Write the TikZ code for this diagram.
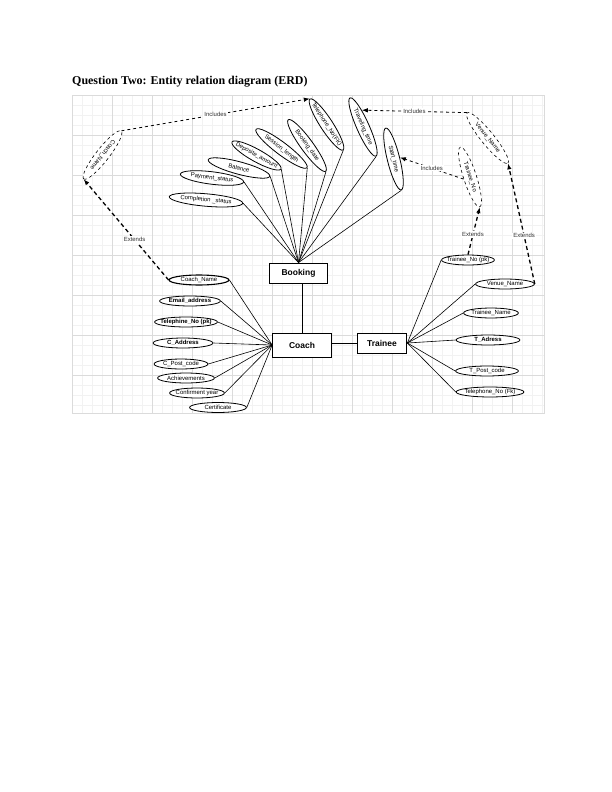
\documentclass[tikz,border=0pt]{standalone}
\usepackage{fontspec}
\setmainfont{Liberation Serif}
\setsansfont{Liberation Sans}
\usepackage{tikz}
\usetikzlibrary{shapes, arrows.meta, positioning}
\newcommand{\ztext}[1]{\makebox[0pt]{#1}}

\begin{document}
\begin{tikzpicture}
  [
    x=1bp, y=-1bp,
    Entity/.style={rectangle, draw=black, fill=white, line width=0.9pt, minimum width=59pt, minimum height=20pt, font=\sffamily\bfseries\fontsize{8.5}{10}\selectfont},
    Attr/.style={ellipse, draw=black, fill=white, line width=0.8pt, inner sep=0pt, minimum height=10pt, font=\sffamily\fontsize{6}{7}\selectfont},
    Key/.style={Attr, font=\sffamily\bfseries\fontsize{6}{7}\selectfont},
    Tall/.style={Attr, minimum height=12.5pt, minimum width=64pt},
    Ghost/.style={Attr, dashed, line width=0.6pt, minimum height=13pt},
    Link/.style={draw, line width=0.6pt},
    Includes/.style={draw, dashed, line width=0.8pt, -{Latex[length=6pt, width=4.5pt]}},
    Extends/.style={draw, dash pattern=on 4pt off 3pt, line width=1.3pt, -{Latex[length=6pt, width=4.5pt]}},
    Tag/.style={fill=white, inner sep=1pt, text=black!80, font=\sffamily\fontsize{6}{7}\selectfont},
    GridMinor/.style={draw=gray!10, line width=0.3pt},
    GridMajor/.style={draw=gray!28, line width=0.4pt}
  ]
  \useasboundingbox (0,0) rectangle (612,792);

  % Grid
  \foreach \gx in {72,82,...,542} \path[GridMinor] (\gx,95) -- (\gx,413);
  \foreach \gy in {95,105,...,413} \path[GridMinor] (72,\gy) -- (544,\gy);
  \foreach \gx in {72,112,...,542} \path[GridMajor] (\gx,95) -- (\gx,413);
  \foreach \gy in {95,135,...,413} \path[GridMajor] (72,\gy) -- (544,\gy);
  \path[GridMajor] (72,95) rectangle (544,413);

  % Title
  \node[anchor=base west, inner sep=0pt, font=\bfseries\fontsize{12}{14}\selectfont] (title) at(72, 84) {Question Two: Entity relation diagram (ERD)};

  % Entities
  \node[Entity] (booking) at(298.5, 273) {Booking};
  \node[Entity, minimum height=24pt] (coach) at(302, 345) {Coach};
  \node[Entity, minimum width=50pt] (trainee) at(382, 343) {Trainee};

  % Coach attributes
  \node[Attr, line width=1.1pt, minimum width=60pt] (cname) at(199, 280) {\ztext{Coach\_Name}};
  \node[Key, minimum width=61pt] (email) at(190, 301) {\ztext{Email\_address}};
  \node[Key, minimum width=63pt] (ctel) at(186, 322) {\ztext{Telephine\_No (pk)}};
  \node[Key, minimum width=60pt] (caddr) at(183, 343) {\ztext{C\_Address}};
  \node[Attr, minimum width=54pt] (cpost) at(181, 364) {\ztext{C\_Post\_code}};
  \node[Attr, minimum width=57pt] (achieve) at(186, 378) {\ztext{Achievements}};
  \node[Attr, minimum width=55pt] (confirm) at(197, 393) {\ztext{Confirment year}};
  \node[Attr, minimum width=57pt] (cert) at(218, 407.5) {\ztext{Certificate}};

  % Trainee attributes
  \node[Attr, minimum width=53pt] (tno) at(468, 260) {\ztext{Trainee\_No (pk)}};
  \node[Attr, minimum width=59pt] (venue) at(505, 284) {\ztext{Venue\_Name}};
  \node[Attr, minimum width=55pt] (tname) at(491, 313) {\ztext{Trainee\_Name}};
  \node[Key, minimum width=64pt] (taddr) at(488, 340) {\ztext{T\_Adress}};
  \node[Attr, minimum width=63pt] (tpost) at(487, 371) {\ztext{T\_Post\_code}};
  \node[Attr, minimum width=68pt] (ttel) at(490, 392) {\ztext{Telephone\_No (Fk)}};

  % Booking attributes
  \node[Tall, rotate=-5, minimum width=74pt] (complete) at(206, 200) {\ztext{Completion \_status}};
  \node[Tall, rotate=-7] (pay) at(212, 178) {\ztext{Payment\_status}};
  \node[Tall, rotate=-15] (balance) at(239, 168) {\ztext{Balance}};
  \node[Tall, rotate=-29, minimum width=56pt] (deposit) at(256.5, 155.5) {\ztext{Deposite\_amount}};
  \node[Tall, rotate=-37] (session) at(281.5, 148.5) {\ztext{Session\_length}};
  \node[Tall, rotate=-54] (bdate) at(307, 145.5) {\ztext{Booking\_date}};
  \node[Tall, rotate=-57, minimum width=61pt] (btel) at(326.5, 124.5) {\ztext{Telephone\_No(FK)}};
  \node[Tall, rotate=-66] (travel) at(363, 127) {\ztext{Traveling\_time}};
  \node[Tall, rotate=-76] (start) at(393.5, 159) {\ztext{Start\_time}};

  % Dashed attributes
  \node[Ghost, rotate=-128, minimum width=61pt] (cname2) at(102.5, 155) {\ztext{Coach\_Name}};
  \node[Ghost, rotate=-51, minimum width=65pt] (venue2) at(487.5, 138) {\ztext{Venue\_Name}};
  \node[Ghost, rotate=-72, minimum width=63pt] (tno2) at(470, 177) {\ztext{Trainee\_No}};

  % Lines
  \path [Link, line width=0.9pt] (coach.north) -- (coach.north |- booking.south);
  \path [Link] (trainee.west) -- (trainee.west -| coach.east);

  \path [Link] (cname.east) -- (coach.west);
  \path [Link] (email.east) -- (coach.west);
  \path [Link] (ctel.east) -- (coach.west);
  \path [Link] (caddr.east) -- (coach.west);
  \path [Link] (cpost.east) -- (coach.west);
  \path [Link] (achieve.east) -- (coach.west);
  \path [Link] (confirm.east) -- (coach.west);
  \path [Link] (cert.east) -- (coach.west);

  \path [Link] (tno.west) -- (trainee.east);
  \path [Link] (venue.west) -- (trainee.east);
  \path [Link] (tname.west) -- (trainee.east);
  \path [Link] (taddr.west) -- (trainee.east);
  \path [Link] (tpost.west) -- (trainee.east);
  \path [Link] (ttel.west) -- (trainee.east);

  \path [Link] (complete.east) -- (booking.north);
  \path [Link] (pay.east) -- (booking.north);
  \path [Link] (balance.east) -- (booking.north);
  \path [Link] (deposit.east) -- (booking.north);
  \path [Link] (session.east) -- (booking.north);
  \path [Link] (bdate.east) -- (booking.north);
  \path [Link] (btel.east) -- (booking.north);
  \path [Link] (travel.east) -- (booking.north);
  \path [Link] (start.east) -- (booking.north);

  % Includes / Extends
  \path [Includes] (cname2.west) -- node[Tag] {Includes} (btel.west);
  \path [Includes] (venue2.west) -- node[Tag] {Includes} (travel.160);
  \path [Includes] (tno2.south) -- node[Tag] {Includes} (start.north);
  \path [Extends] (cname.west) -- node[Tag, pos=0.4] {Extends} (cname2.east);
  \path [Extends] (tno.north) -- node[Tag, pos=0.42] {Extends} (tno2.east);
  \path [Extends] (venue.east) -- node[Tag, pos=0.4] {Extends} (venue2.east);

\end{tikzpicture}
\end{document}
